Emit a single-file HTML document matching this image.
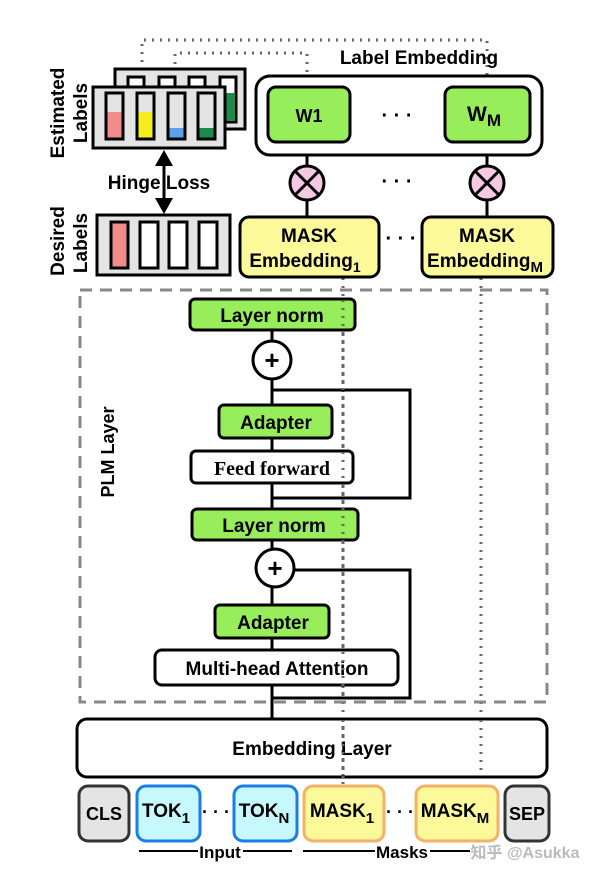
<!DOCTYPE html>
<html><head><meta charset="utf-8"><style>
html,body{margin:0;padding:0;background:#fff;}
svg{display:block;}
text{font-family:"Liberation Sans",Arial,sans-serif;font-weight:bold;fill:#000;}
</style></head><body>
<svg width="600" height="875" viewBox="0 0 600 875" xmlns="http://www.w3.org/2000/svg">
<g stroke="#666" stroke-width="3" stroke-dasharray="2,6" fill="none">
<path d="M142 78 V40 H487 V78"/>
<path d="M175 72 V53 H307 V78"/>
<path d="M343 278 V784"/>
<path d="M481 278 V718"/>
</g>
<rect x="80" y="290" width="467" height="412" fill="none" stroke="#888" stroke-width="3" stroke-dasharray="12,8"/>

<text transform="translate(64,113) rotate(-90)" font-size="19" text-anchor="middle">Estimated</text>
<text transform="translate(87,113) rotate(-90)" font-size="19" text-anchor="middle">Labels</text>
<text transform="translate(64,241) rotate(-90)" font-size="19" text-anchor="middle">Desired</text>
<text transform="translate(87,243) rotate(-90)" font-size="19" text-anchor="middle">Labels</text>

<rect x="115" y="69" width="130" height="60" fill="#e4e4e4" stroke="#000" stroke-width="3"/>
<g stroke="#000" stroke-width="3" fill="#fff">
<rect x="128" y="77" width="16" height="45"/><rect x="159" y="77" width="16" height="45"/>
<rect x="189" y="77" width="16" height="45"/><rect x="220" y="77" width="16" height="45"/>
</g>
<rect x="221" y="93" width="14" height="28" fill="#1e8a4a"/>
<rect x="93" y="87" width="132" height="61" fill="#e4e4e4" stroke="#000" stroke-width="3"/>
<rect x="107" y="112" width="15" height="27" fill="#f28b8b"/>
<rect x="138" y="112" width="15" height="27" fill="#f4ee1c"/>
<rect x="169" y="128" width="15" height="11" fill="#5aa0ee"/>
<rect x="199" y="128" width="15" height="11" fill="#1e8a4a"/>
<g stroke="#000" stroke-width="3" fill="none">
<rect x="106" y="93" width="17" height="46"/><rect x="137" y="93" width="17" height="46"/>
<rect x="168" y="93" width="17" height="46"/><rect x="198" y="93" width="17" height="46"/>
</g>
<line x1="164" y1="162" x2="164" y2="203" stroke="#000" stroke-width="3"/>
<polygon points="164,150 155,166 173,166" fill="#000"/>
<polygon points="164,214 155,198 173,198" fill="#000"/>
<text x="159" y="189" font-size="19" text-anchor="middle">Hinge Loss</text>
<rect x="97" y="215" width="133" height="60" fill="#e4e4e4" stroke="#000" stroke-width="3"/>
<rect x="112" y="223" width="16" height="45" fill="#f28b8b"/>
<g stroke="#000" stroke-width="3" fill="none">
<rect x="111" y="222" width="17" height="46"/>
<rect x="140" y="222" width="18" height="46" fill="#fff"/>
<rect x="169" y="222" width="18" height="46" fill="#fff"/>
<rect x="199" y="222" width="18" height="46" fill="#fff"/>
</g>

<text x="419" y="64" font-size="19" text-anchor="middle">Label Embedding</text>
<rect x="256" y="76" width="286" height="79" rx="14" fill="#fff" stroke="#000" stroke-width="3"/>
<rect x="268" y="87" width="82" height="55" rx="8" fill="#98ee5a" stroke="#000" stroke-width="3"/>
<rect x="445" y="87" width="85" height="55" rx="8" fill="#98ee5a" stroke="#000" stroke-width="3"/>
<text x="309" y="122" font-size="18" text-anchor="middle">W1</text>
<text x="484" y="121" font-size="21" text-anchor="middle">W<tspan font-size="17" dy="5">M</tspan></text>
<text x="397" y="122" font-size="20" text-anchor="middle">· · ·</text>
<text x="397" y="188" font-size="20" text-anchor="middle">· · ·</text>
<text x="401" y="245" font-size="20" text-anchor="middle">· · ·</text>
<g stroke="#000" stroke-width="3">
<line x1="307" y1="155" x2="307" y2="217"/><line x1="487" y1="155" x2="487" y2="217"/>
</g>
<g stroke="#000" stroke-width="3" fill="#f5c8e4">
<circle cx="307" cy="183" r="17"/><circle cx="487" cy="183" r="17"/>
</g>
<g stroke="#000" stroke-width="3">
<line x1="295" y1="171" x2="319" y2="195"/><line x1="319" y1="171" x2="295" y2="195"/>
<line x1="475" y1="171" x2="499" y2="195"/><line x1="499" y1="171" x2="475" y2="195"/>
</g>
<rect x="240" y="217" width="139" height="60" rx="9" fill="#fcf99a" stroke="#000" stroke-width="3"/>
<rect x="422" y="217" width="131" height="60" rx="9" fill="#fcf99a" stroke="#000" stroke-width="3"/>
<text x="309" y="242" font-size="19" text-anchor="middle">MASK</text>
<text x="305" y="267" font-size="19" text-anchor="middle">Embedding<tspan font-size="14" dy="5">1</tspan></text>
<text x="487" y="242" font-size="19" text-anchor="middle">MASK</text>
<text x="485" y="267" font-size="19" text-anchor="middle">Embedding<tspan font-size="15" dy="5">M</tspan></text>

<text transform="translate(114,452) rotate(-90)" font-size="18" text-anchor="middle">PLM Layer</text>
<g stroke="#000" stroke-width="3" fill="none">
<line x1="272" y1="329" x2="272" y2="718"/>
<path d="M272 390 H410 V498 H272"/>
<path d="M294 570 H410 V698 H272"/>
</g>
<rect x="190" y="299" width="165" height="31" rx="5" fill="#98ee5a" stroke="#000" stroke-width="3"/>
<text x="272" y="322" font-size="19" text-anchor="middle">Layer norm</text>
<circle cx="272" cy="360" r="19" fill="#fff" stroke="#000" stroke-width="3"/>
<text x="272" y="369" font-size="26" font-weight="normal" text-anchor="middle">+</text>
<rect x="219" y="405" width="113" height="33" rx="5" fill="#98ee5a" stroke="#000" stroke-width="3"/>
<text x="276" y="429" font-size="19" text-anchor="middle">Adapter</text>
<rect x="191" y="451" width="162" height="32" rx="5" fill="#fff" stroke="#000" stroke-width="3"/>
<text x="272" y="475" font-size="20" text-anchor="middle" style="font-family:'Liberation Serif',serif">Feed forward</text>
<rect x="192" y="509" width="166" height="31" rx="5" fill="#98ee5a" stroke="#000" stroke-width="3"/>
<text x="274" y="532" font-size="19" text-anchor="middle">Layer norm</text>
<circle cx="275" cy="568" r="19" fill="#fff" stroke="#000" stroke-width="3"/>
<text x="275" y="577" font-size="26" font-weight="normal" text-anchor="middle">+</text>
<rect x="215" y="605" width="114" height="33" rx="5" fill="#98ee5a" stroke="#000" stroke-width="3"/>
<text x="273" y="629" font-size="19" text-anchor="middle">Adapter</text>
<rect x="155" y="650" width="243" height="35" rx="7" fill="#fff" stroke="#000" stroke-width="3"/>
<text x="277" y="675" font-size="19" text-anchor="middle">Multi-head Attention</text>
<g stroke="#666" stroke-width="3" stroke-dasharray="2,6" fill="none">
<path d="M343 300 V700"/>
</g>

<rect x="77" y="719" width="470" height="58" rx="10" fill="none" stroke="#000" stroke-width="3"/>
<text x="312" y="755" font-size="19" text-anchor="middle">Embedding Layer</text>
<g stroke="#666" stroke-width="3" stroke-dasharray="2,6" fill="none">
<path d="M343 720 V784"/><path d="M481 720 V776"/>
</g>

<rect x="79" y="786" width="50" height="55" rx="9" fill="#e4e4e4" stroke="#333" stroke-width="3"/>
<text x="104" y="820" font-size="18" text-anchor="middle">CLS</text>
<rect x="137" y="786" width="63" height="55" rx="9" fill="#c6f8fd" stroke="#1a7ee6" stroke-width="3"/>
<text x="166" y="817" font-size="19" text-anchor="middle">TOK<tspan font-size="15" dy="6">1</tspan></text>
<text x="216" y="818" font-size="18" text-anchor="middle">· · ·</text>
<rect x="234" y="786" width="63" height="55" rx="9" fill="#c6f8fd" stroke="#1a7ee6" stroke-width="3"/>
<text x="264" y="817" font-size="19" text-anchor="middle">TOK<tspan font-size="15" dy="6">N</tspan></text>
<rect x="304" y="786" width="80" height="55" rx="9" fill="#fcf99a" stroke="#f5b06a" stroke-width="3"/>
<text x="342" y="817" font-size="19" text-anchor="middle">MASK<tspan font-size="15" dy="6">1</tspan></text>
<text x="400" y="818" font-size="18" text-anchor="middle">· · ·</text>
<rect x="416" y="786" width="82" height="55" rx="9" fill="#fcf99a" stroke="#f5b06a" stroke-width="3"/>
<text x="455" y="817" font-size="19" text-anchor="middle">MASK<tspan font-size="15" dy="6">M</tspan></text>
<rect x="505" y="786" width="44" height="55" rx="9" fill="#e4e4e4" stroke="#333" stroke-width="3"/>
<text x="527" y="820" font-size="18" text-anchor="middle">SEP</text>

<g stroke="#000" stroke-width="2">
<line x1="139" y1="851" x2="198" y2="851"/><line x1="243" y1="851" x2="292" y2="851"/>
<line x1="303" y1="851" x2="375" y2="851"/><line x1="430" y1="851" x2="470" y2="851"/>
</g>
<text x="220" y="858" font-size="17" font-weight="normal" text-anchor="middle">Input</text>
<text x="402" y="858" font-size="17" font-weight="normal" text-anchor="middle">Masks</text>
<text x="525" y="858" font-size="16" font-weight="normal" text-anchor="middle" style="fill:#bbb;font-family:'Liberation Sans','Noto Sans CJK SC',sans-serif">知乎 @Asukka</text>
</svg>
</body></html>
